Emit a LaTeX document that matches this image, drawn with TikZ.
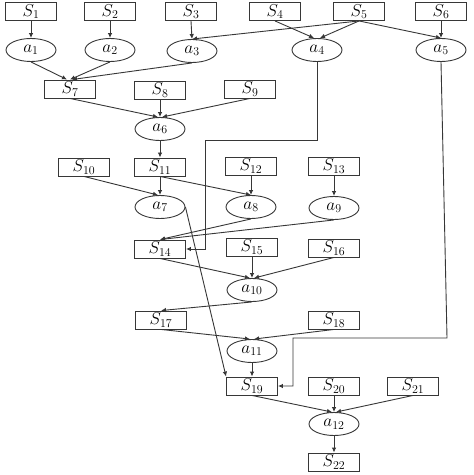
\documentclass[tikz,border=0pt]{standalone}
\usetikzlibrary{shapes.geometric,arrows.meta}
\definecolor{ln}{RGB}{55,55,55}
\begin{document}
\begin{tikzpicture}[x=1bp,y=-1bp,
  sbox/.style={draw=ln,line width=0.9bp,rectangle,minimum width=51bp,minimum height=18bp,inner sep=0pt,font=\fontsize{17}{19}\selectfont},
  aell/.style={draw=ln,line width=0.9bp,ellipse,minimum width=50bp,minimum height=23bp,inner sep=0pt,font=\fontsize{17}{19}\selectfont},
  arr/.style={draw=ln,line width=0.9bp,-{Latex[length=5bp,width=4.5bp]}}]
\useasboundingbox[fill=white] (0,0) rectangle (474,475);
% row S1..S6
\node[sbox] (s1) at (31,11.5) {$S_1$};
\node[sbox] (s2) at (110,11.5) {$S_2$};
\node[sbox] (s3) at (191,11.5) {$S_3$};
\node[sbox] (s4) at (275,11.5) {$S_4$};
\node[sbox] (s5) at (359,11.5) {$S_5$};
\node[sbox] (s6) at (441,11.5) {$S_6$};
% a1..a5
\node[aell] (a1) at (31,50) {$a_1$};
\node[aell] (a2) at (110,50) {$a_2$};
\node[aell] (a3) at (192,51) {$a_3$};
\node[aell] (a4) at (317,50) {$a_4$};
\node[aell] (a5) at (441,50) {$a_5$};
% S7..S9
\node[sbox] (s7) at (70,89) {$S_7$};
\node[sbox] (s8) at (160,90) {$S_8$};
\node[sbox] (s9) at (250,89) {$S_9$};
\node[aell] (a6) at (160,129) {$a_6$};
% S10..S13
\node[sbox] (s10) at (84,167) {$S_{10}$};
\node[sbox] (s11) at (160,167) {$S_{11}$};
\node[sbox] (s12) at (251,166) {$S_{12}$};
\node[sbox] (s13) at (334,166) {$S_{13}$};
\node[aell] (a7) at (160,207) {$a_7$};
\node[aell] (a8) at (251,207) {$a_8$};
\node[aell] (a9) at (334,208) {$a_9$};
% S14..S16
\node[sbox] (s14) at (160,249) {$S_{14}$};
\node[sbox] (s15) at (252,247) {$S_{15}$};
\node[sbox] (s16) at (334,248) {$S_{16}$};
\node[aell] (a10) at (252,290) {$a_{10}$};
% S17, S18
\node[sbox] (s17) at (161,320) {$S_{17}$};
\node[sbox] (s18) at (334,320) {$S_{18}$};
\node[aell] (a11) at (252,351) {$a_{11}$};
% S19..S21
\node[sbox] (s19) at (252,386) {$S_{19}$};
\node[sbox] (s20) at (334,386) {$S_{20}$};
\node[sbox] (s21) at (413,386) {$S_{21}$};
\node[aell] (a12) at (334,424) {$a_{12}$};
\node[sbox] (s22) at (334,462) {$S_{22}$};
% helper coordinates
\coordinate (k1) at (205,140);
\coordinate (k2) at (447,338);
\coordinate (k3) at (293,338);
% edges
\draw[arr] (s1.south) -- (a1.north);
\draw[arr] (s2.south) -- (a2.north);
\draw[arr] (s3.south) -- (a3.north);
\draw[arr] (s4.south) -- ([xshift=-3bp]a4.north);
\draw[arr] (s5.south) -- ([xshift=3bp]a4.north);
\draw[arr] (s5.south) -- (a3.north);
\draw[arr] (s5.south) -- (a5.north);
\draw[arr] (s6.south) -- (a5.north);
\draw[arr] (a1.south) -- ([xshift=-3bp]s7.north);
\draw[arr] (a2.south) -- (s7.north);
\draw[arr] (a3.south) -- ([xshift=2bp]s7.north);
\draw[arr] (s7.south) -- ([xshift=-2bp]a6.north);
\draw[arr] (s8.south) -- (a6.north);
\draw[arr] (s9.south) -- ([xshift=2bp]a6.north);
\draw[arr] (a6.south) -- (s11.north);
\draw[arr] (a4.south) |- (k1) |- (s14.east);
\draw[arr] (s10.south) -- ([xshift=-2bp]a7.north);
\draw[arr] (s11.south) -- (a7.north);
\draw[arr] (s11.south) -- (a8.north);
\draw[arr] (s12.south) -- (a8.north);
\draw[arr] (s13.south) -- (a9.north);
\draw[arr] (a8.south) -- (s14.north);
\draw[arr] (a9.south) -- (s14.north);
\draw[arr] (a7.east) -- (s19.north west);
\draw[arr] (s14.south) -- ([xshift=-2bp]a10.north);
\draw[arr] (s15.south) -- (a10.north);
\draw[arr] (s16.south) -- ([xshift=2bp]a10.north);
\draw[arr] (a10.south) -- (s17.north);
\draw[arr] (s17.south) -- ([xshift=-2bp]a11.north);
\draw[arr] (s18.south) -- ([xshift=2bp]a11.north);
\draw[arr] (a11.south) -- (s19.north);
\draw[arr] (a5.south) -- (k2) -- (k3) |- (s19.east);
\draw[arr] (s19.south) -- ([xshift=-2bp]a12.north);
\draw[arr] (s20.south) -- (a12.north);
\draw[arr] (s21.south) -- ([xshift=2bp]a12.north);
\draw[arr] (a12.south) -- (s22.north);
\end{tikzpicture}
\end{document}
